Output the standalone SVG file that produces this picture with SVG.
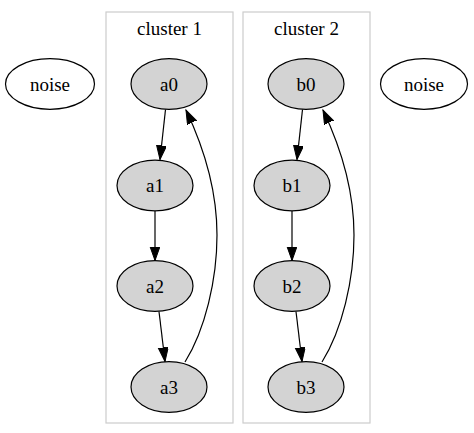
<svg xmlns="http://www.w3.org/2000/svg" width="474" height="433" viewBox="0 0 474 433">
<style>
.cluster{fill:none;stroke:#cccccc;stroke-width:1.2}
.node{stroke:#000;stroke-width:1.2}
.filled{fill:#d3d3d3}
.plain{fill:#fff}
text{font-family:"Liberation Serif","Times New Roman",serif;font-size:19px;fill:#000;text-anchor:middle}
.edge{fill:none;stroke:#000;stroke-width:1.2;marker-end:url(#arr)}
</style>
<defs>
<marker id="arr" markerUnits="userSpaceOnUse" markerWidth="16" markerHeight="12" refX="14" refY="5" orient="auto" viewBox="0 0 16 12">
<path d="M0,0 L14,5 L0,10 z" fill="#000" stroke="#000" stroke-width="1"/>
</marker>
</defs>
<rect width="474" height="433" fill="#fff"/>
<g id="cluster1">
<rect class="cluster" x="106" y="12" width="127" height="411"/>
<text x="169.5" y="35">cluster 1</text>
</g>
<g id="cluster2">
<rect class="cluster" x="243" y="12" width="127" height="411"/>
<text x="306.5" y="35">cluster 2</text>
</g>
<g id="edges">
<path class="edge" d="M165.5,109.5 L160,159.5"/>
<path class="edge" d="M155,211 L155,260.5"/>
<path class="edge" d="M159,311.5 L165,361.5"/>
<path class="edge" d="M185,362 C205,330 217,280 217,235 C217,190 205,150 186,110"/>
<path class="edge" d="M302.5,109.5 L297,159.5"/>
<path class="edge" d="M292,211 L292,260.5"/>
<path class="edge" d="M296,311.5 L302,361.5"/>
<path class="edge" d="M322,362 C342,330 354,280 354,235 C354,190 342,150 323,110"/>
</g>
<g id="noise1">
<ellipse class="node plain" cx="50" cy="84" rx="44.5" ry="25.3"/>
<text x="50" y="90.5">noise</text>
</g>
<g id="noise2">
<ellipse class="node plain" cx="424" cy="84" rx="43.5" ry="25.3"/>
<text x="424" y="90.5">noise</text>
</g>
<g id="a0">
<ellipse class="node filled" cx="169" cy="84" rx="38" ry="25.3"/>
<text x="169" y="90.5">a0</text>
</g>
<g id="a1">
<ellipse class="node filled" cx="155" cy="185.5" rx="38" ry="25.3"/>
<text x="155" y="192">a1</text>
</g>
<g id="a2">
<ellipse class="node filled" cx="155" cy="286" rx="38" ry="25.3"/>
<text x="155" y="292.5">a2</text>
</g>
<g id="a3">
<ellipse class="node filled" cx="169" cy="387" rx="38" ry="25.3"/>
<text x="169" y="393.5">a3</text>
</g>
<g id="b0">
<ellipse class="node filled" cx="306" cy="84" rx="38" ry="25.3"/>
<text x="306" y="90.5">b0</text>
</g>
<g id="b1">
<ellipse class="node filled" cx="292" cy="185.5" rx="38" ry="25.3"/>
<text x="292" y="192">b1</text>
</g>
<g id="b2">
<ellipse class="node filled" cx="292" cy="286" rx="38" ry="25.3"/>
<text x="292" y="292.5">b2</text>
</g>
<g id="b3">
<ellipse class="node filled" cx="306" cy="387" rx="38" ry="25.3"/>
<text x="306" y="393.5">b3</text>
</g>
</svg>
